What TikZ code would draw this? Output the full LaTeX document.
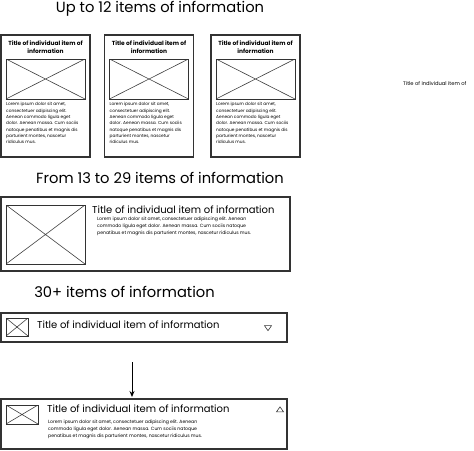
\documentclass[tikz,border=0pt]{standalone}
\usepackage{fontspec}
\setmainfont{Poppins}
\usetikzlibrary{arrows.meta, shapes.geometric}

\tikzset{
  frame/.style={draw=black!80, line width=1.1pt, inner sep=0pt},
  imgbox/.style={draw=black!80, line width=0.8pt, inner sep=0pt,
    path picture={\draw[black!75, line width=0.6pt]
      (path picture bounding box.north west) -- (path picture bounding box.south east)
      (path picture bounding box.south west) -- (path picture bounding box.north east);}},
  heading/.style={font=\fontsize{14.7}{16}\selectfont},
  cardtitle/.style={font=\fontsize{5.9}{7.8}\selectfont\bfseries, align=center, inner sep=0pt},
  lorem/.style={font=\fontsize{4.3}{6.3}\selectfont, align=left, inner sep=0pt, anchor=north west},
  smalllorem/.style={font=\fontsize{4.6}{7.2}\selectfont, align=left, inner sep=0pt, anchor=north west},
  rowtitle/.style={font=\fontsize{10}{11}\selectfont, inner sep=0pt, anchor=west},
  toggle/.style={draw=black!80, line width=0.6pt, isosceles triangle, isosceles triangle apex angle=70,
    minimum height=5pt, inner sep=0pt}
}

\newcommand{\cardbody}{Lorem ipsum dolor sit amet,\\ consectetuer adipiscing elit.\\
  Aenean commodo ligula eget\\ dolor. Aenean massa. Cum sociis\\
  natoque penatibus et magnis dis\\ parturient montes, nascetur\\ ridiculus mus.}
\newcommand{\widebody}{Lorem ipsum dolor sit amet, consectetuer adipiscing elit. Aenean\\
  commodo ligula eget dolor. Aenean massa. Cum sociis natoque\\
  penatibus et magnis dis parturient montes, nascetur ridiculus mus.}

\begin{document}
\begin{tikzpicture}[x=1pt, y=-1pt]
    \useasboundingbox (0,0) rectangle (474,450);

    % up to 12
    \node[heading] (head1) at (160,9) {Up to 12 items of information};
    \draw[frame] (1,35) rectangle (90,157);
    \draw[frame] (104.5,35) rectangle (193.5,157);
    \draw[frame] (211,35) rectangle (300,157);
    \node[cardtitle] (ctitle1) at (45.5,47) {Title of individual item of\\ information};
    \node[cardtitle] (ctitle2) at (149,47) {Title of individual item of\\ information};
    \node[cardtitle] (ctitle3) at (255.5,47) {Title of individual item of\\ information};
    \node[imgbox, minimum width=79pt, minimum height=40pt] (cimg1) at (45.5,79) {};
    \node[imgbox, minimum width=79pt, minimum height=40pt] (cimg2) at (149,79) {};
    \node[imgbox, minimum width=79pt, minimum height=40pt] (cimg3) at (255.5,79) {};
    \node[lorem] (ctext1) at (6,102.5) {\cardbody};
    \node[lorem] (ctext2) at (109.5,102.5) {\cardbody};
    \node[lorem] (ctext3) at (216,102.5) {\cardbody};
    \node[font=\fontsize{5.2}{6}\selectfont, inner sep=0pt, anchor=west] (stray) at (403,84) {Title of individual item of};

    % 13 to 29
    \node[heading] (head2) at (160,178) {From 13 to 29 items of information};
    \draw[frame] (1,197) rectangle (290,271);
    \node[imgbox, minimum width=79pt, minimum height=59pt] (wimg) at (45.5,234.5) {};
    \node[rowtitle] (wtitle) at (92,209.5) {Title of individual item of information};
    \node[smalllorem] (wtext) at (97,216.5) {\widebody};

    % 30+
    \node[heading] (head3) at (124.5,292) {30+ items of information};
    \draw[frame] (1,313) rectangle (287,342);
    \node[imgbox, minimum width=22pt, minimum height=18pt] (simg1) at (17,327) {};
    \node[rowtitle] (stitle1) at (37,324.5) {Title of individual item of information};
    \node[toggle, shape border rotate=-90] (down) at (268,327.5) {};

    \coordinate (arrtop) at (132,362);
    \draw[line width=0.9pt, -{Stealth[length=6pt, width=5pt]}] (arrtop) -- (132,397);

    \draw[frame] (1,399) rectangle (287,449);
    \node[imgbox, minimum width=32pt, minimum height=19pt] (simg2) at (22,414.5) {};
    \node[rowtitle] (stitle2) at (47,409) {Title of individual item of information};
    \node[smalllorem] (stext2) at (48,419.5) {\widebody};
    \node[toggle, shape border rotate=90] (up) at (280,410) {};
\end{tikzpicture}
\end{document}
